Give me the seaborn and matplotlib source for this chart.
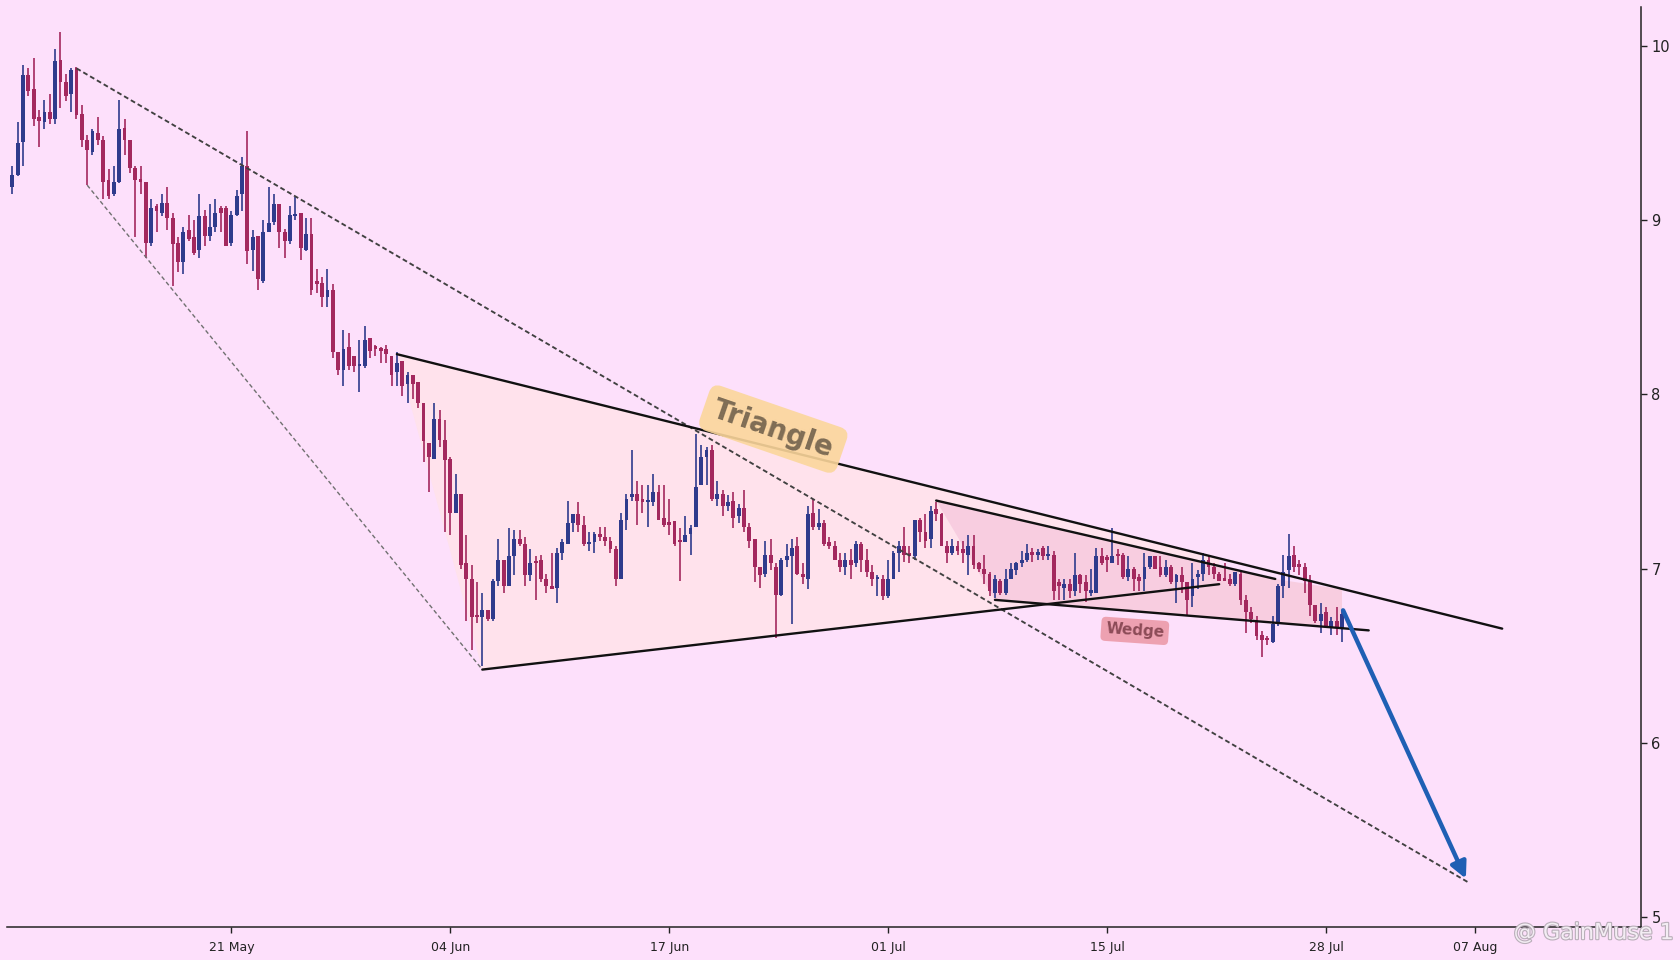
#!/usr/bin/env python3
"""
Triangle / wedge pattern chart (8h candles)
"""

import matplotlib
matplotlib.use('Agg')
import pandas as pd
import matplotlib.pyplot as plt
import matplotlib.patheffects as pe
import seaborn as sns
from matplotlib.patches import Polygon

# 8h candles (index 0 = 07 May 16:00)
OPEN = [
    9.19, 9.26, 9.45, 9.83, 9.75, 9.59, 9.56, 9.62, 9.58, 9.92,
    9.79, 9.72, 9.87, 9.61, 9.46, 9.39, 9.50, 9.46, 9.23, 9.15,
    9.22, 9.53, 9.46, 9.30, 9.23, 9.22, 8.87, 9.08, 9.04, 9.10,
    9.01, 8.87, 8.76, 8.94, 8.90, 8.83, 9.02, 8.91, 8.96, 9.07,
    9.07, 8.87, 9.03, 9.15, 9.31, 8.83, 8.91, 8.65, 8.93, 8.99,
    9.09, 8.93, 8.88, 9.02, 9.04, 8.83, 8.92, 8.65, 8.64, 8.56,
    8.60, 8.24, 8.14, 8.27, 8.22, 8.16, 8.16, 8.32, 8.27, 8.26,
    8.26, 8.22, 8.13, 8.19, 8.06, 8.11, 8.07, 7.95, 7.72, 7.63,
    7.86, 7.74, 7.63, 7.32, 7.43, 7.03, 6.94, 6.73, 6.72, 6.76,
    6.71, 6.93, 7.05, 6.90, 7.07, 7.17, 7.14, 6.96, 7.04, 7.05,
    6.94, 6.90, 6.89, 7.09, 7.14, 7.26, 7.31, 7.25, 7.14, 7.15,
    7.20, 7.18, 7.16, 7.11, 6.94, 7.28, 7.41, 7.43, 7.40, 7.38,
    7.38, 7.44, 7.29, 7.26, 7.27, 7.16, 7.15, 7.20, 7.24, 7.48,
    7.64, 7.68, 7.40, 7.43, 7.36, 7.39, 7.30, 7.35, 7.24, 7.17,
    7.01, 6.97, 7.08, 7.01, 6.85, 7.05, 7.07, 7.13, 6.97, 6.94,
    7.32, 7.24, 7.26, 7.15, 7.13, 7.05, 7.01, 7.05, 7.03, 7.14,
    7.05, 6.98, 6.94, 6.94, 6.84, 6.94, 7.09, 7.13, 7.09, 7.07,
    7.28, 7.21, 7.17, 7.34, 7.31, 7.13, 7.09, 7.13, 7.11, 7.08,
    7.13, 7.03, 7.00, 6.97, 6.86, 6.93, 6.86, 6.94, 6.99, 7.03,
    7.05, 7.09, 7.08, 7.12, 7.07, 7.08, 6.92, 6.89, 6.91, 6.87,
    6.96, 6.92, 6.86, 6.86, 7.07, 7.06, 7.03, 7.08, 7.08, 6.95,
    7.00, 6.95, 6.94, 7.01, 7.07, 7.01, 6.96, 7.01, 6.92, 6.96,
    6.92, 6.84, 6.95, 6.97, 7.05, 7.01, 6.97, 6.94, 6.94, 6.91,
    6.97, 6.82, 6.75, 6.70, 6.62, 6.60, 6.58, 6.68, 6.90, 6.99,
    7.08, 7.02, 7.01, 6.93, 6.79, 6.70, 6.75, 6.66, 6.70, 6.65,
]
HIGH = [
    9.31, 9.56, 9.89, 9.87, 9.93, 9.63, 9.69, 9.72, 9.98, 10.08,
    9.84, 9.87, 9.88, 9.66, 9.49, 9.52, 9.59, 9.48, 9.29, 9.31,
    9.69, 9.58, 9.46, 9.31, 9.31, 9.22, 9.12, 9.09, 9.15, 9.19,
    9.04, 8.90, 8.96, 9.03, 9.00, 9.15, 9.06, 9.09, 9.12, 9.08,
    9.08, 9.05, 9.17, 9.36, 9.51, 8.94, 8.91, 9.00, 9.19, 9.15,
    9.09, 8.95, 9.08, 9.13, 9.04, 9.01, 9.01, 8.72, 8.67, 8.72,
    8.63, 8.24, 8.37, 8.35, 8.22, 8.31, 8.39, 8.32, 8.28, 8.27,
    8.28, 8.22, 8.24, 8.19, 8.13, 8.11, 8.07, 7.95, 7.72, 7.95,
    7.91, 7.85, 7.64, 7.54, 7.43, 7.19, 7.02, 6.92, 6.86, 6.76,
    6.94, 7.17, 7.05, 7.23, 7.22, 7.22, 7.18, 7.11, 7.07, 7.08,
    6.97, 7.09, 7.12, 7.17, 7.39, 7.31, 7.38, 7.30, 7.21, 7.21,
    7.24, 7.24, 7.18, 7.13, 7.32, 7.43, 7.68, 7.50, 7.48, 7.48,
    7.54, 7.48, 7.48, 7.40, 7.27, 7.23, 7.30, 7.25, 7.77, 7.71,
    7.70, 7.71, 7.50, 7.45, 7.42, 7.44, 7.37, 7.45, 7.26, 7.17,
    7.01, 7.16, 7.17, 7.03, 7.06, 7.14, 7.17, 7.18, 7.03, 7.36,
    7.40, 7.34, 7.28, 7.18, 7.16, 7.09, 7.09, 7.11, 7.16, 7.15,
    7.11, 7.02, 6.96, 6.96, 7.05, 7.10, 7.16, 7.24, 7.13, 7.28,
    7.29, 7.31, 7.36, 7.38, 7.32, 7.16, 7.17, 7.16, 7.16, 7.19,
    7.19, 7.04, 7.08, 6.98, 6.96, 6.94, 7.00, 7.03, 7.04, 7.10,
    7.14, 7.12, 7.11, 7.13, 7.13, 7.10, 6.94, 6.94, 6.94, 7.09,
    6.97, 6.96, 7.00, 7.12, 7.12, 7.08, 7.23, 7.11, 7.09, 7.07,
    7.01, 6.97, 7.09, 7.07, 7.07, 7.07, 7.05, 7.02, 6.97, 7.01,
    6.92, 7.03, 6.99, 7.09, 7.08, 7.03, 6.98, 7.03, 6.97, 6.98,
    6.98, 6.85, 6.78, 6.73, 6.64, 6.61, 6.73, 6.91, 7.08, 7.20,
    7.13, 7.05, 7.03, 6.96, 6.79, 6.80, 6.78, 6.72, 6.78, 6.76,
]
LOW = [
    9.15, 9.25, 9.31, 9.71, 9.54, 9.42, 9.52, 9.55, 9.55, 9.64,
    9.68, 9.62, 9.58, 9.42, 9.20, 9.37, 9.43, 9.12, 9.12, 9.14,
    9.21, 9.37, 9.27, 8.90, 9.15, 8.78, 8.85, 8.93, 9.02, 8.94,
    8.62, 8.70, 8.69, 8.88, 8.80, 8.78, 8.85, 8.88, 8.93, 8.93,
    8.85, 8.85, 9.02, 9.05, 8.75, 8.71, 8.60, 8.64, 8.93, 8.97,
    8.84, 8.78, 8.86, 9.00, 8.77, 8.82, 8.57, 8.58, 8.50, 8.50,
    8.21, 8.11, 8.05, 8.14, 8.13, 8.01, 8.15, 8.21, 8.22, 8.18,
    8.18, 8.05, 8.05, 7.99, 7.95, 7.97, 7.92, 7.61, 7.44, 7.63,
    7.70, 7.21, 7.19, 7.32, 7.00, 6.70, 6.53, 6.69, 6.44, 6.70,
    6.70, 6.90, 6.86, 6.90, 6.96, 7.13, 6.90, 6.93, 6.82, 6.92,
    6.86, 6.88, 6.80, 7.05, 7.14, 7.21, 7.21, 7.13, 7.10, 7.09,
    7.16, 7.13, 7.09, 6.90, 6.94, 7.22, 7.39, 7.25, 7.32, 7.24,
    7.36, 7.28, 7.24, 7.19, 7.13, 6.93, 7.15, 7.08, 7.24, 7.48,
    7.48, 7.39, 7.36, 7.30, 7.33, 7.23, 7.26, 7.21, 7.12, 6.92,
    6.89, 6.95, 6.99, 6.60, 6.84, 7.01, 6.68, 6.96, 6.91, 6.88,
    7.22, 7.22, 7.13, 7.11, 7.05, 6.98, 6.96, 6.94, 7.01, 6.98,
    6.95, 6.90, 6.84, 6.82, 6.83, 6.94, 6.98, 7.04, 7.03, 7.05,
    7.15, 7.12, 7.12, 7.27, 7.13, 7.03, 7.08, 7.08, 7.03, 6.96,
    7.00, 6.98, 6.91, 6.84, 6.83, 6.85, 6.85, 6.94, 6.96, 7.01,
    7.04, 7.04, 7.05, 7.05, 7.05, 6.82, 6.82, 6.82, 6.83, 6.84,
    6.86, 6.81, 6.84, 6.86, 7.02, 6.98, 7.03, 7.02, 6.94, 6.93,
    6.87, 6.87, 6.87, 7.00, 7.00, 6.95, 6.95, 6.91, 6.80, 6.86,
    6.73, 6.78, 6.88, 6.93, 6.96, 6.94, 6.93, 6.93, 6.90, 6.90,
    6.79, 6.63, 6.69, 6.59, 6.49, 6.56, 6.57, 6.67, 6.83, 6.89,
    6.98, 6.96, 6.86, 6.73, 6.69, 6.63, 6.67, 6.62, 6.62, 6.58,
]
CLOSE = [
    9.26, 9.44, 9.83, 9.74, 9.58, 9.57, 9.62, 9.58, 9.91, 9.79,
    9.71, 9.86, 9.60, 9.46, 9.40, 9.51, 9.46, 9.22, 9.14, 9.22,
    9.52, 9.46, 9.30, 9.23, 9.22, 8.87, 9.07, 9.05, 9.10, 9.01,
    8.86, 8.76, 8.93, 8.89, 8.81, 9.02, 8.91, 8.96, 9.04, 9.04,
    8.85, 9.03, 9.14, 9.31, 8.82, 8.90, 8.66, 8.93, 8.98, 9.09,
    8.93, 8.88, 9.03, 9.03, 8.84, 8.92, 8.60, 8.63, 8.56, 8.60,
    8.24, 8.14, 8.26, 8.16, 8.16, 8.17, 8.31, 8.25, 8.26, 8.25,
    8.23, 8.11, 8.18, 8.05, 8.11, 8.06, 7.95, 7.73, 7.64, 7.86,
    7.74, 7.62, 7.32, 7.43, 7.02, 6.94, 6.72, 6.72, 6.76, 6.71,
    6.93, 7.05, 6.90, 7.07, 7.17, 7.14, 6.96, 7.03, 7.03, 6.94,
    6.90, 6.88, 7.09, 7.15, 7.26, 7.31, 7.25, 7.14, 7.15, 7.20,
    7.18, 7.16, 7.11, 6.94, 7.28, 7.40, 7.43, 7.39, 7.38, 7.39,
    7.44, 7.28, 7.25, 7.25, 7.14, 7.15, 7.19, 7.23, 7.47, 7.64,
    7.68, 7.40, 7.43, 7.36, 7.38, 7.29, 7.35, 7.24, 7.16, 7.01,
    6.96, 7.08, 7.03, 6.85, 7.05, 7.07, 7.12, 6.97, 6.95, 7.31,
    7.24, 7.26, 7.14, 7.13, 7.05, 7.01, 7.05, 7.02, 7.14, 7.05,
    6.98, 6.94, 6.95, 6.84, 6.94, 7.09, 7.13, 7.08, 7.07, 7.28,
    7.21, 7.16, 7.33, 7.31, 7.13, 7.09, 7.13, 7.10, 7.09, 7.13,
    7.02, 7.00, 6.97, 6.87, 6.94, 6.86, 6.94, 7.00, 7.03, 7.05,
    7.09, 7.08, 7.09, 7.07, 7.08, 6.87, 6.90, 6.91, 6.87, 6.96,
    6.91, 6.87, 6.87, 7.07, 7.03, 7.05, 7.07, 7.07, 6.95, 7.00,
    6.94, 6.93, 7.01, 7.07, 7.00, 6.96, 7.01, 6.92, 6.96, 6.92,
    6.82, 6.94, 6.97, 7.05, 7.01, 6.97, 6.93, 6.93, 6.91, 6.98,
    6.82, 6.75, 6.71, 6.61, 6.59, 6.59, 6.68, 6.90, 6.98, 7.07,
    7.01, 7.01, 6.93, 6.79, 6.70, 6.74, 6.67, 6.70, 6.66, 6.74,
]

# x axis labels (placed on candle index)
TICK_POS = [41, 82, 123, 164, 205, 246, 274]
TICK_LABELS = ['21 May', '04 Jun', '17 Jun', '01 Jul', '15 Jul', '28 Jul', '07 Aug']
Y_TICKS = [5, 6, 7, 8, 9, 10]

# pattern drawings (candle index, price)
CHANNEL_TOP_X = [12, 272.6]
CHANNEL_TOP_Y = [9.87, 5.20]
CHANNEL_BOT_X = [14, 88]
CHANNEL_BOT_Y = [9.20, 6.42]
TRI_TOP_X = [72, 279]
TRI_TOP_Y = [8.23, 6.655]
TRI_BOT_X = [88, 226]
TRI_BOT_Y = [6.42, 6.91]
WEDGE_TOP_X = [173, 236.5]
WEDGE_TOP_Y = [7.39, 6.94]
WEDGE_BOT_X = [184, 254]
WEDGE_BOT_Y = [6.82, 6.645]
TRI_FILL_X = [72, 226, 226, 88]
TRI_FILL_Y = [8.23, 7.06, 6.91, 6.42]
WEDGE_FILL_X = [173, 236.5, 249, 249, 184]
WEDGE_FILL_Y = [7.39, 6.94, 6.88, 6.66, 6.82]
ARROW_X = [249.2, 272.2]
ARROW_Y = [6.76, 5.22]

BG = '#fde0fb'
UP = '#2f3b8c'
DOWN = '#a3285e'

sns.set_theme(style='white', rc={'axes.facecolor': BG, 'figure.facecolor': BG})
plt.rcParams['font.family'] = ['DejaVu Sans']

df = pd.DataFrame({'open': OPEN, 'high': HIGH, 'low': LOW, 'close': CLOSE})
df['idx'] = range(len(df))
df['up'] = df['close'] >= df['open']

fig = plt.figure(figsize=(16.8, 9.6), dpi=100)
ax = fig.add_axes([0.0042, 0.0344, 0.9726, 0.9583])

# 三角形・ウェッジの塗り
ax.add_patch(Polygon(list(zip(TRI_FILL_X, TRI_FILL_Y)), closed=True,
                     facecolor='#ffe2ec', edgecolor='none', zorder=1))
ax.add_patch(Polygon(list(zip(WEDGE_FILL_X, WEDGE_FILL_Y)), closed=True,
                     facecolor='#f8cde0', edgecolor='none', zorder=1))

# ローソク足
colors = df['up'].map({True: UP, False: DOWN})
ax.vlines(df['idx'], df['low'], df['high'], colors=colors, linewidth=1.2, zorder=3)
body_lo = df[['open', 'close']].min(axis=1)
body_h = (df['close'] - df['open']).abs().clip(lower=0.014)
ax.bar(df['idx'], body_h, bottom=body_lo, width=0.72, color=colors,
       linewidth=0, zorder=3)

# トレンドライン
sns.lineplot(x=CHANNEL_TOP_X, y=CHANNEL_TOP_Y, ax=ax, color='#404040',
             linewidth=1.35, zorder=4)
ax.lines[-1].set_linestyle((0, (2.6, 1.6)))
sns.lineplot(x=CHANNEL_BOT_X, y=CHANNEL_BOT_Y, ax=ax, color='#707070',
             linewidth=1.0, zorder=4)
ax.lines[-1].set_linestyle((0, (3, 2)))
for xs, ys in [(TRI_TOP_X, TRI_TOP_Y), (TRI_BOT_X, TRI_BOT_Y),
               (WEDGE_TOP_X, WEDGE_TOP_Y), (WEDGE_BOT_X, WEDGE_BOT_Y)]:
    sns.lineplot(x=xs, y=ys, ax=ax, color='#111111', linewidth=1.7, zorder=4)

# 予想矢印
ax.annotate('', xy=(ARROW_X[1], ARROW_Y[1]), xytext=(ARROW_X[0], ARROW_Y[0]),
            arrowprops=dict(arrowstyle='-|>', color='#1f5fb4', lw=3.2,
                            mutation_scale=24, shrinkA=0, shrinkB=0), zorder=5)

# ラベル
ax.text(142.5, 7.80, 'Triangle', fontsize=20, fontweight='bold', color='#7f6d55',
        rotation=-19, ha='center', va='center', zorder=6,
        bbox=dict(boxstyle='round,pad=0.35', fc='#fbd69b', ec='none', alpha=0.9))
ax.text(210.2, 6.642, 'Wedge', fontsize=11, fontweight='bold', color='#8c4b57',
        rotation=-4, ha='center', va='center', zorder=6,
        bbox=dict(boxstyle='round,pad=0.3', fc='#ec9ba9', ec='none', alpha=0.9))

# 軸
ax.set_xlim(-1, 305)
ax.set_ylim(4.943, 10.222)
ax.set_xticks(TICK_POS)
ax.set_xticklabels(TICK_LABELS, fontsize=9)
ax.set_yticks(Y_TICKS)
ax.set_yticklabels([str(v) for v in Y_TICKS], fontsize=10.5)
ax.yaxis.tick_right()
ax.tick_params(axis='both', which='major', length=4, width=1.0, color='#222222',
               direction='out', bottom=True, right=True, left=False, colors='#222222')
ax.tick_params(axis='x', pad=6)
for side in ['left', 'top']:
    ax.spines[side].set_visible(False)
for side in ['right', 'bottom']:
    ax.spines[side].set_color('#222222')
    ax.spines[side].set_linewidth(1.1)
ax.set_xlabel('')
ax.set_ylabel('')
ax.grid(False)

# 透かし
fig.text(0.901, 0.028, '@ GainMuse 1', fontsize=16, color='#f3edf3',
         ha='left', va='center', zorder=10,
         path_effects=[pe.withStroke(linewidth=1.6, foreground='#b9aeb9')])

fig.savefig('out.png', dpi=100, facecolor=BG)
